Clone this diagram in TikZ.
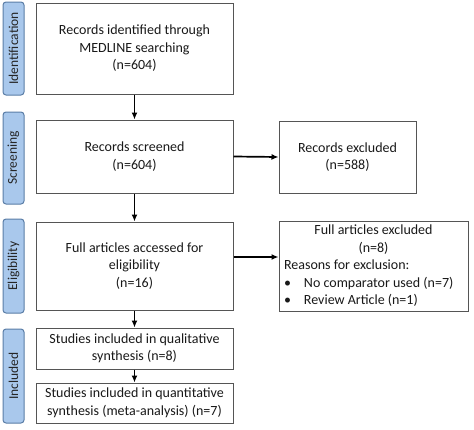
\documentclass[tikz,border=0pt]{standalone}
\usepackage{fontspec}
\setmainfont{Carlito}
\usetikzlibrary{arrows.meta}

\definecolor{tabfill}{HTML}{A9C8EC}
\definecolor{tabline}{HTML}{5A7DA6}
\definecolor{boxline}{HTML}{555555}

\tikzset{
  stagebox/.style={draw=boxline, line width=1pt, fill=white, align=center,
    inner sep=0pt, font=\fontsize{14}{17.5}\selectfont, text=black!90},
  phasetab/.style={draw=tabline, fill=tabfill, line width=1pt, rounded corners=3pt,
    minimum width=21pt, inner sep=0pt, font=\fontsize{13.5}{15}\selectfont, text=black!85},
  flow/.style={-{Latex[length=7pt,width=6pt]}, line width=1.7pt}
}

\begin{document}
\begin{tikzpicture}[x=1pt,y=1pt]
        \useasboundingbox (0,0) rectangle (474,-429);

        % phase tabs on the left
        \node[phasetab, minimum height=93pt] (tabid) at (13.5,-48.5) {\rotatebox{90}{Identification}};
        \node[phasetab, minimum height=92pt] (tabscr) at (13.5,-158) {\rotatebox{90}{Screening}};
        \node[phasetab, minimum height=94pt] (tabelig) at (13.5,-266) {\rotatebox{90}{Eligibility}};
        \node[phasetab, minimum height=94pt] (tabincl) at (13.5,-376) {\rotatebox{90}{Included}};

        % main column
        \node[stagebox, minimum width=197pt, minimum height=91pt] (ident) at (134.5,-48.5)
            {Records identified through\\MEDLINE searching\\(n=604)};
        \node[stagebox, minimum width=197pt, minimum height=73pt] (screen) at (134.5,-156.5)
            {Records screened\\(n=604)};
        \node[stagebox, minimum width=197pt, minimum height=88pt] (fulltext) at (134.5,-266)
            {Full articles accessed for\\eligibility\\(n=16)};
        \node[stagebox, minimum width=197pt, minimum height=41pt] (qual) at (134.5,-348.5)
            {Studies included in qualitative\\synthesis (n=8)};
        \node[stagebox, minimum width=197pt, minimum height=40pt] (quant) at (134.5,-403)
            {Studies included in quantitative\\synthesis (meta-analysis) (n=7)};

        % exclusions on the right
        \node[stagebox, minimum width=137pt, minimum height=72pt] (recexcl) at (347.5,-157)
            {Records excluded\\(n=588)};
        \node[stagebox, minimum width=189pt, minimum height=90pt] (fullexcl) at (373.5,-266)
            {\parbox{179pt}{\centering Full articles excluded\\(n=8)\par
             \raggedright Reasons for exclusion:\\
             \textbullet\hspace{13pt}No comparator used (n=7)\\
             \textbullet\hspace{13pt}Review Article (n=1)}};

        % connectors
        \draw[flow] (ident.south) -- (screen.north);
        \draw[flow] (screen.south) -- (fulltext.north);
        \draw[flow] (fulltext.south) -- (qual.north);
        \draw[flow] (qual.south) -- (quant.north);
        \draw[flow] (screen.east) -- (recexcl.west);
        \draw[flow] (fulltext.east |- 0,-257) coordinate (elx) -- (fullexcl.west |- elx);
    \end{tikzpicture}
\end{document}
